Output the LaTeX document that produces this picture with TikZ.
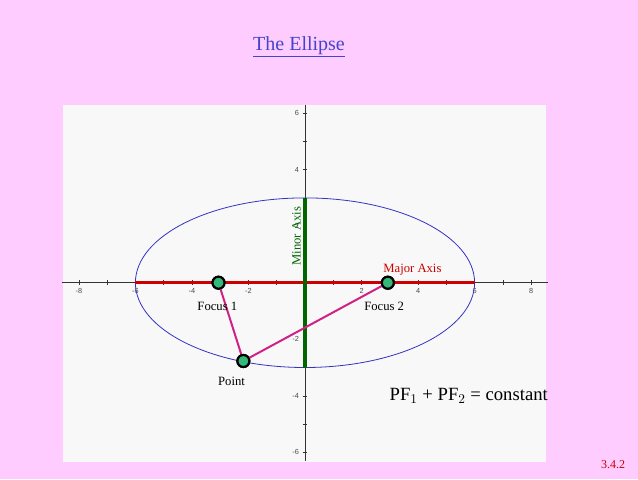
\documentclass[tikz,border=0pt]{standalone}
\usepackage{fontspec}
\setmainfont{Liberation Serif}
\setsansfont{Liberation Sans}
\begin{document}
\begin{tikzpicture}[x=0.75pt,y=-0.75pt,
  dot/.style={circle,draw=black,line width=1.6pt,fill=teal!70!green!80,inner sep=0pt,minimum size=9pt},
  tick/.style={font=\sffamily\fontsize{5.5}{5.5}\selectfont,text=gray!60!black},
  lab/.style={font=\fontsize{9.5}{11}\selectfont}]
\fill[fill={rgb,255:red,255;green,204;blue,255}] (0,0) rectangle (638,479);
\useasboundingbox (0,0) rectangle (638,479);
\fill[fill={rgb,255:red,248;green,248;blue,248}] (63,105) rectangle (546,462);
\node[font=\fontsize{15}{17}\selectfont,text={rgb,255:red,68;green,68;blue,204}] (title) at (299,47) {\underline{The Ellipse}};
\node[font=\fontsize{9}{10}\selectfont,text={rgb,255:red,204;green,0;blue,0}] (num) at (613,465) {3.4.2};
\begin{scope}[shift={(305,282.7)},x=21.2pt,y=21.2pt]
  \draw[gray!40!black,line width=0.5pt] (-8.6,0) -- (8.6,0);
  \draw[gray!40!black,line width=0.5pt] (0,-6.3) -- (0,6.3);
  \foreach \i in {-8,...,8} {\draw[gray!40!black] (\i,-0.08) -- (\i,0.08);}
  \foreach \i in {-6,...,6} {\draw[gray!40!black] (-0.08,\i) -- (0.08,\i);}
  \foreach \i in {-8,-6,-4,-2,2,4,6,8} {\node[tick] at (\i,-0.28) {\i};}
  \foreach \i in {-6,-4,-2,2,4,6} {\node[tick,anchor=east] at (-0.05,\i) {\i};}
  \draw[blue!70!black!80,line width=0.6pt] (0,0) ellipse [x radius=6, y radius=3];
  \draw[red!80!black,line width=2.5pt] (-6,0) -- (6,0);
  \draw[green!40!black,line width=2.5pt] (0,-3) -- (0,3);
  \node[dot] (f1) at (-3.06,0) {};
  \node[dot] (f2) at (2.93,0) {};
  \node[dot] (p) at (-2.18,-2.77) {};
  \draw[magenta!70!violet,line width=1.5pt] (f1) -- (p) -- (f2);
  \node[dot] at (-3.06,0) {};
  \node[dot] at (2.93,0) {};
  \node[dot] at (-2.18,-2.77) {};
  \node[lab] (l1) at (-3.1,-0.85) {Focus 1};
  \node[lab] (l2) at (2.8,-0.85) {Focus 2};
  \node[lab] (lp) at (-2.6,-3.5) {Point};
  \node[lab,text=red!80!black] (lma) at (3.8,0.47) {Major Axis};
  \node[lab,text=green!40!black,rotate=90] (lmi) at (-0.3,1.65) {Minor Axis};
  \node[font=\fontsize{14}{16}\selectfont,anchor=west] (eq) at (2.83,-4) {PF$_1$ + PF$_2$ = constant};
\end{scope}
\end{tikzpicture}
\end{document}
